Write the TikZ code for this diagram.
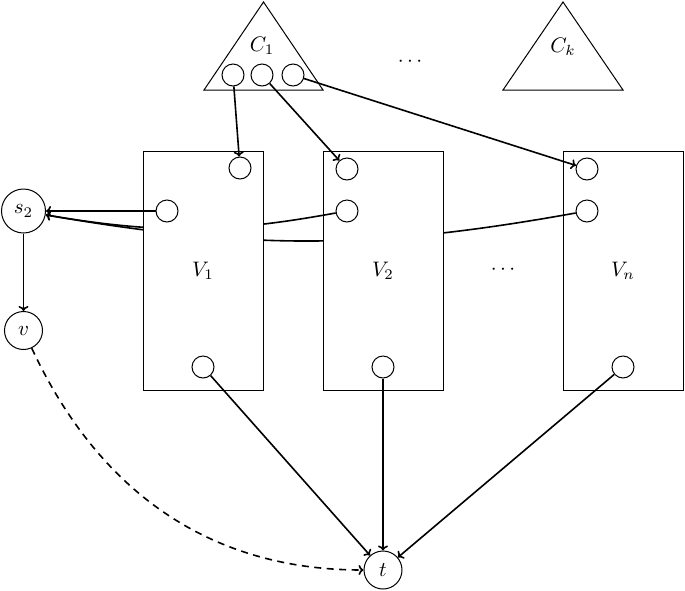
\documentclass[tikz,border=0pt]{standalone}
\usetikzlibrary{arrows.meta}
\newcommand{\biglbl}[1]{\scalebox{2.1}{#1}}
\begin{document}
\begin{tikzpicture}[x=1pt,y=-1pt,
  boxnode/.style={draw,line width=1pt,fill=white,rectangle,minimum width=120pt,minimum height=239pt,inner sep=0pt},
  port/.style={draw,line width=1pt,fill=white,circle,minimum size=22pt,inner sep=0pt},
  vert/.style={draw,line width=1pt,fill=white,circle,inner sep=0pt},
  edge/.style={line width=1.6pt,-{To[length=5pt,width=10pt]}},
  tri/.style={draw,line width=1pt,fill=white}
]
\useasboundingbox (0,0) rectangle (685,590);
% outside vertices
\node[vert,minimum size=44pt] (s2) at (23.5,211) {\biglbl{$s_2$}};
\node[vert,minimum size=38pt] (v) at (23.5,330.5) {\biglbl{$v$}};
\node[vert,minimum size=38pt] (t) at (383,570) {\biglbl{$t$}};
% Vn
\node[boxnode] (Vn) at (623,270.5) {\biglbl{$V_n$}};
\node[port] (Vnt) at (587,169) {};
\node[port] (Vnm) at (587,211) {};
\node[port] (Vnb) at (623,367) {};
\draw[edge] (Vnm) to[bend left=10] (s2);
% V2
\node[boxnode] (V2) at (383,270.5) {\biglbl{$V_2$}};
\node[port] (V2t) at (347,169) {};
\node[port] (V2m) at (347,211) {};
\node[port] (V2b) at (383,367) {};
\draw[edge] (V2m) to[bend left=10] (s2);
% V1
\node[boxnode] (V1) at (203,270.5) {\biglbl{$V_1$}};
\node[port] (V1t) at (240,168) {};
\node[port] (V1m) at (167,211) {};
\node[port] (V1b) at (203,367) {};
\draw[edge] (V1m) -- (s2);
% triangles
\draw[tri] (204,90) -- (263.5,2) -- (323,90) -- cycle;
\node (C1) at (262,46) {\biglbl{$C_1$}};
\node[port] (c1a) at (233,75) {};
\node[port] (c1b) at (262,75) {};
\node[port] (c1c) at (293,75) {};
\draw[tri] (503,90) -- (563,2) -- (623,90) -- cycle;
\node (Ck) at (563,47) {\biglbl{$C_k$}};
\node (d1) at (410,62) {\biglbl{$\cdots$}};
\node (d2) at (503,270) {\biglbl{$\cdots$}};
% edges
\draw[edge] (c1a) -- (V1t);
\draw[edge] (c1b) -- (V2t);
\draw[edge] (c1c) -- (Vnt);
\draw[edge] (s2) -- (v);
\draw[edge] (V1b) -- (t);
\draw[edge] (V2b) -- (t);
\draw[edge] (Vnb) -- (t);
\draw[edge,dash pattern=on 7pt off 5.5pt] (v) to[out=-65,in=180] (t);
\end{tikzpicture}
\end{document}
